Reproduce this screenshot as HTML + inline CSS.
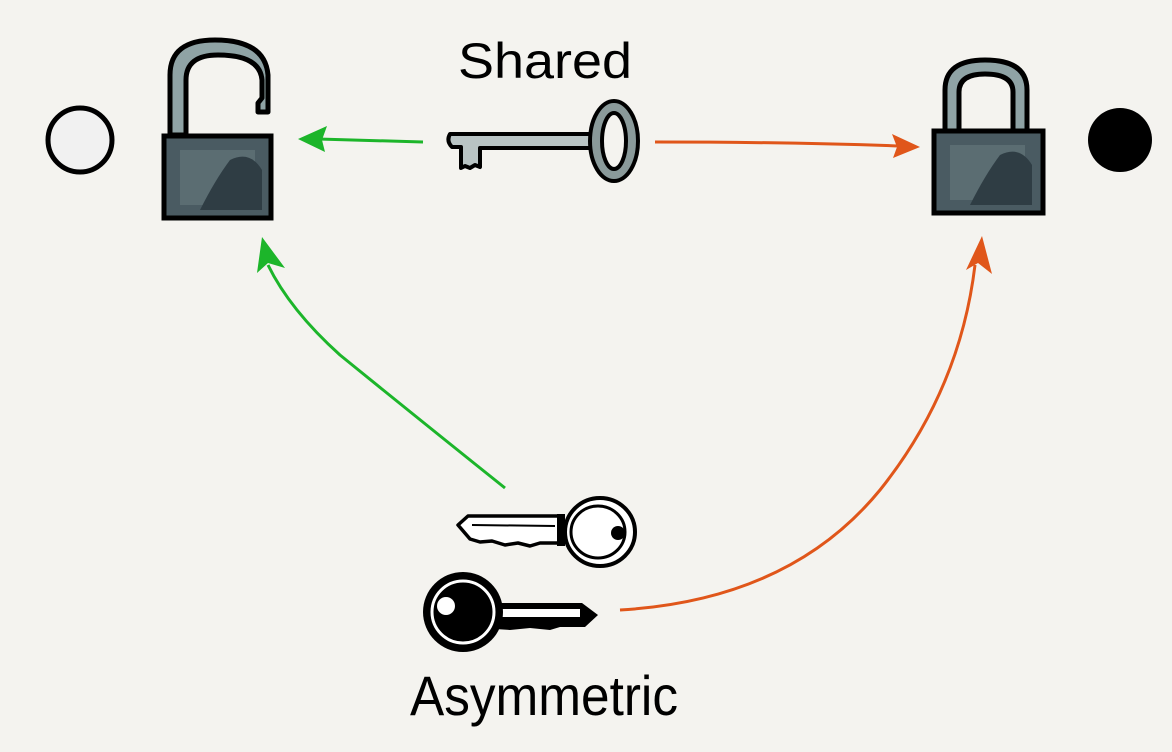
<!DOCTYPE html>
<html><head><style>body{margin:0;background:#f4f3ef}svg{display:block}</style></head><body>
<svg width="1172" height="752" viewBox="0 0 1172 752" xmlns="http://www.w3.org/2000/svg">
<rect width="1172" height="752" fill="#f4f3ef"/>
<circle cx="80" cy="140" r="32" fill="#f1f1f1" stroke="#000" stroke-width="5"/>
<circle cx="1120" cy="140" r="32" fill="#000"/>
<!-- left padlock -->
<path d="M170 135 V75 Q170 40 215 40 Q265 40 268 75 V112 L258 112 V103 L262 98 V80 Q260 55 218 55 Q186 55 186 80 V135 Z" fill="#8fa3a5" stroke="#000" stroke-width="5" stroke-linejoin="round"/>
<rect x="164" y="136" width="107" height="82" fill="#4a5b62" stroke="#000" stroke-width="5"/>
<path d="M180 150 H255 V205 H180 Z" fill="#5f7277" opacity=".8"/>
<path d="M230 160 Q250 150 262 170 V210 H200 Q215 180 230 160Z" fill="#2f3d44"/>
<!-- right padlock -->
<path d="M945 132 V90 Q945 60 985 60 Q1027 60 1027 90 V132 H1013 V92 Q1013 74 985 74 Q959 74 959 92 V132 Z" fill="#8fa3a5" stroke="#000" stroke-width="5" stroke-linejoin="round"/>
<rect x="934" y="131" width="109" height="82" fill="#4a5b62" stroke="#000" stroke-width="5"/>
<path d="M950 145 H1025 V200 H950 Z" fill="#5f7277" opacity=".8"/>
<path d="M1000 155 Q1020 145 1032 165 V205 H970 Q985 175 1000 155Z" fill="#2f3d44"/>
<!-- shared key -->
<path d="M450 134 Q446 141 452 147 H461 V168 L465 166 L470 168 L475 165 L480 167 V148 H595 V134 Z" fill="#b9c4c4" stroke="#000" stroke-width="4" stroke-linejoin="round"/>
<ellipse cx="614" cy="141" rx="24" ry="40" fill="#8a9a9a" stroke="#000" stroke-width="4"/>
<ellipse cx="614" cy="141" rx="12" ry="28" fill="#f4f3ef" stroke="#000" stroke-width="4"/>
<text x="458" y="78" font-family="Liberation Sans, sans-serif" font-size="50" textLength="174" lengthAdjust="spacingAndGlyphs">Shared</text>
<!-- arrows top -->
<path d="M423 142 Q360 140 318 139" stroke="#1cb52a" stroke-width="3" fill="none"/>
<path d="M298 139 L327 126 L322 140 L325 152 Z" fill="#1cb52a"/>
<path d="M655 142 Q790 142 900 146" stroke="#e0561a" stroke-width="3" fill="none"/>
<path d="M920 147 L892 134 L897 147 L893 158 Z" fill="#e0561a"/>
<!-- curves -->
<path d="M505 488 Q420 420 340 355 Q290 310 268 265" stroke="#1cb52a" stroke-width="3" fill="none"/>
<path d="M262 237 L257 273 L268 263 L285 268 Z" fill="#1cb52a"/>
<path d="M620 610 Q790 600 880 490 Q960 390 975 265" stroke="#e0561a" stroke-width="3" fill="none"/>
<path d="M982 236 L966 270 L978 263 L992 274 Z" fill="#e0561a"/>
<!-- white key -->
<path d="M458 525 L468 516 H560 V543 H540 L530 546 L518 543 L505 545 L492 541 L480 542 L470 539 Z" fill="#fff" stroke="#000" stroke-width="3.5" stroke-linejoin="round"/>
<line x1="472" y1="525" x2="555" y2="526" stroke="#000" stroke-width="2"/>
<rect x="557" y="514" width="8" height="32" fill="#000"/>
<ellipse cx="600" cy="532" rx="35" ry="34" fill="#fff" stroke="#000" stroke-width="4"/>
<ellipse cx="598" cy="532" rx="27" ry="26" fill="none" stroke="#000" stroke-width="3"/>
<circle cx="618" cy="533" r="7" fill="#000"/>
<!-- black key -->
<path d="M495 603 H582 L598 615 L585 627 H560 L550 630 L530 628 L510 630 L495 629 Z" fill="#000"/>
<rect x="502" y="609" width="78" height="8" fill="#fff"/>
<circle cx="463" cy="612" r="40" fill="#000"/>
<circle cx="463" cy="612" r="31" fill="none" stroke="#fff" stroke-width="3"/>
<circle cx="446" cy="606" r="9" fill="#fff"/>
<text x="410" y="715" font-family="Liberation Sans, sans-serif" font-size="56" textLength="268" lengthAdjust="spacingAndGlyphs">Asymmetric</text>
</svg>
</body></html>
